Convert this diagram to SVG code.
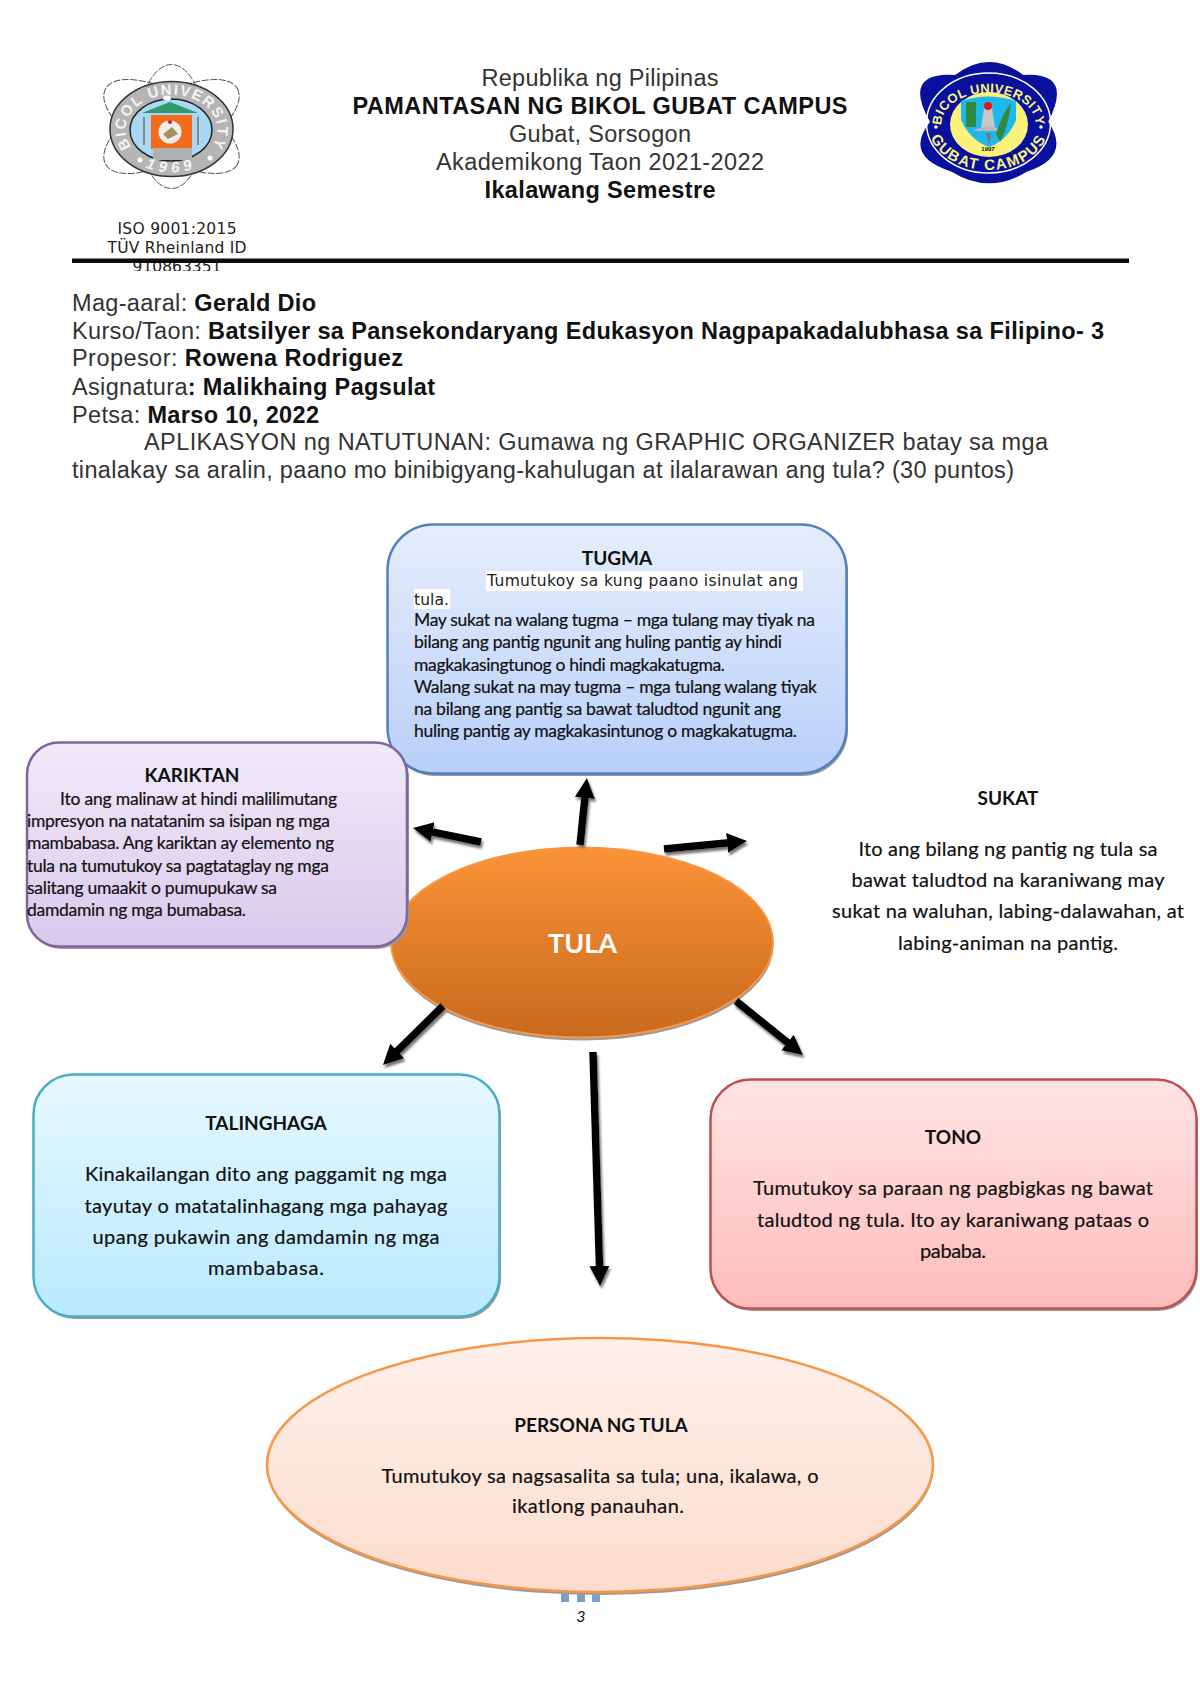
<svg xmlns="http://www.w3.org/2000/svg" width="1200" height="1698" viewBox="0 0 1200 1698">
<style>
text{fill:#111}
.h{font-family:"Liberation Sans",Arial,sans-serif;font-size:23.5px;text-anchor:middle;fill:#333}
.hb{font-weight:bold;fill:#111}
.m{font-family:"Liberation Sans",Arial,sans-serif;font-size:23.5px;fill:#333}
.m tspan{font-weight:bold;fill:#111}
.b{font-family:Lato,"Noto Sans",sans-serif;font-size:17.5px;stroke:#111;stroke-width:.2}
.c{font-family:Lato,"Noto Sans",sans-serif;font-size:20px;text-anchor:middle;stroke:#111;stroke-width:.2}
.t{font-family:Lato,"Noto Sans",sans-serif;font-size:19px;font-weight:bold;text-anchor:middle}
.iso{font-family:"DejaVu Sans",sans-serif;font-size:15.5px;text-anchor:middle;fill:#222}
.arrow{stroke:#000;stroke-width:7.500;fill:none;marker-end:url(#ah)}
.sh{fill:#9a9a9a}
.lg{font-family:"Liberation Sans",sans-serif;font-weight:bold}
</style>
<defs>
<marker id="ah" markerUnits="userSpaceOnUse" markerWidth="24" markerHeight="24" refX="2" refY="11" orient="auto"><path d="M0 1L20 11L0 21Z" fill="#000"/></marker>
<filter id="ds" x="-20%" y="-20%" width="140%" height="140%"><feDropShadow dx="1.500" dy="3" stdDeviation="1" flood-color="#777"/></filter>
<linearGradient id="gb" x1="0" y1="0" x2="0" y2="1"><stop offset="0" stop-color="#e6eefc"/><stop offset="1" stop-color="#b9cffa"/></linearGradient>
<linearGradient id="gp" x1="0" y1="0" x2="0" y2="1"><stop offset="0" stop-color="#f0eaf8"/><stop offset="1" stop-color="#d9c9ec"/></linearGradient>
<linearGradient id="gc" x1="0" y1="0" x2="0" y2="1"><stop offset="0" stop-color="#e6f8ff"/><stop offset="1" stop-color="#b9e9fe"/></linearGradient>
<linearGradient id="gr" x1="0" y1="0" x2="0" y2="1"><stop offset="0" stop-color="#ffe4e4"/><stop offset="1" stop-color="#febcbc"/></linearGradient>
<linearGradient id="go" x1="0" y1="0" x2="0" y2="1"><stop offset="0" stop-color="#fef0ea"/><stop offset="1" stop-color="#fddccd"/></linearGradient>
<linearGradient id="gt" x1="0" y1="0" x2="0" y2="1"><stop offset="0" stop-color="#fb9336"/><stop offset="1" stop-color="#c8691e"/></linearGradient>
<path id="arcTop" d="M134 150A46 35 0 1 1 209 150"/>
<path id="arcBot" d="M116 129A55 43 0 0 0 227 129"/>
<path id="arcT2" d="M942.500 130A47 31 0 1 1 1034.500 130"/>
<path id="arcB2" d="M928 124A60.500 46 0 0 0 1049 124"/>
</defs>

<g id="logo-left">
<g fill="none" stroke="#555" stroke-width="1" stroke-dasharray="7 1.500">
<ellipse cx="171.500" cy="126.500" rx="76" ry="32" transform="rotate(30 171.500 126.500)"/>
<ellipse cx="171.500" cy="126.500" rx="76" ry="32" transform="rotate(-30 171.500 126.500)"/>
<ellipse cx="171.500" cy="126.500" rx="32" ry="62"/>
</g>
<ellipse cx="171.500" cy="129" rx="61.500" ry="47.500" fill="#b5b5b5" stroke="#333" stroke-width="1.500"/>
<ellipse cx="171" cy="130" rx="41" ry="31" fill="#a8d8f4" stroke="#222" stroke-width="1.500"/>
<ellipse cx="167" cy="98" rx="4" ry="2.500" fill="#fff"/>
<path d="M142 113L170 102L198 113Z" fill="#2f9a6c"/>
<rect x="143" y="117" width="2" height="28" fill="#888"/>
<rect x="197" y="117" width="2" height="28" fill="#888"/>
<rect x="151" y="115" width="41" height="34" fill="#f26a1b"/>
<rect x="153" y="148" width="39" height="12" fill="#b0b0b0"/>
<circle cx="170" cy="132" r="11.500" fill="#eee"/>
<path d="M163 134L172 127L178 134L168 139Z" fill="#a8905c"/>
<circle cx="170" cy="122" r="2" fill="#c22"/>
<text class="lg" font-size="15" style="fill:#f4f4f4" letter-spacing="1.500" text-anchor="middle"><textPath href="#arcTop" startOffset="50%">BICOL UNIVERSITY</textPath></text>
<text class="lg" font-size="15" font-style="italic" style="fill:#f4f4f4" letter-spacing="5" text-anchor="middle"><textPath href="#arcBot" startOffset="50%">1969</textPath></text>
<circle cx="140" cy="160" r="2.500" fill="#fff"/>
<circle cx="210" cy="158" r="2.500" fill="#fff"/>
</g>

<g id="logo-right">
<path d="M955 75Q989 49 1023.300 75Q1074 71.700 1048.300 121.700Q1072 156.700 1026.700 171.700Q989 195 951.700 171.700Q903 156.700 930 121.700Q901.500 71.700 955 75Z" fill="#08109c"/>
<ellipse cx="988.500" cy="123" rx="62" ry="50" fill="none" stroke="#fff" stroke-width="1.500"/>
<ellipse cx="989" cy="124.500" rx="39" ry="32.500" fill="#fbf27c"/>
<path d="M961 101Q988 92 1016 101L1016 120Q1008 140 989 147Q970 140 961 120Z" fill="#1eb8ee"/>
<path d="M984 108h8l3 20h-14Z" fill="#c8c8c8"/>
<path d="M973 131Q988 122 1003 131Z" fill="#b8b8b8"/>
<path d="M986 133h5l-2 12Z" fill="#777"/>
<circle cx="988" cy="106" r="4" fill="#e01818"/>
<path d="M996 134Q1002 114 1011 103Q1008 128 1000 142Z" fill="#2e8a3c"/>
<rect x="966" y="102" width="10" height="25" fill="#2e8a3c"/>
<text class="lg" font-size="13" style="fill:#fbf27c" letter-spacing=".3" text-anchor="middle"><textPath href="#arcT2" startOffset="50%">BICOL UNIVERSITY</textPath></text>
<text class="lg" font-size="15" style="fill:#fbf27c" letter-spacing="1.500" text-anchor="middle"><textPath href="#arcB2" startOffset="50%">GUBAT CAMPUS</textPath></text>
<circle cx="936" cy="127" r="1.800" fill="#fff"/>
<circle cx="1041" cy="127" r="1.800" fill="#fff"/>
<text x="988" y="151" class="lg" font-size="6" text-anchor="middle">1997</text>
</g>

<g id="header">
<text class="h" x="600" y="86" textLength="237">Republika ng Pilipinas</text>
<text class="h hb" x="600" y="114" textLength="495">PAMANTASAN NG BIKOL GUBAT CAMPUS</text>
<text class="h" x="600" y="142" textLength="182">Gubat, Sorsogon</text>
<text class="h" x="600" y="170" textLength="328">Akademikong Taon 2021-2022</text>
<text class="h hb" x="600" y="198" textLength="231">Ikalawang Semestre</text>
<text class="iso" x="177" y="234" textLength="119">ISO 9001:2015</text>
<text class="iso" x="177" y="253" textLength="139">TÜV Rheinland ID</text>
<clipPath id="clipIso"><rect x="100" y="263" width="160" height="8"/></clipPath>
<text class="iso" x="177" y="272" clip-path="url(#clipIso)">910863351</text>
<rect x="72" y="258.500" width="1057" height="4.500" fill="#0c0c0c"/>
</g>

<g id="info">
<text class="m" x="72" y="311" textLength="244">Mag-aaral: <tspan>Gerald Dio</tspan></text>
<text class="m" x="72" y="339" textLength="1032">Kurso/Taon: <tspan>Batsilyer sa Pansekondaryang Edukasyon Nagpapakadalubhasa sa Filipino- 3</tspan></text>
<text class="m" x="72" y="366" textLength="331">Propesor: <tspan>Rowena Rodriguez</tspan></text>
<text class="m" x="72" y="395" textLength="363">Asignatura<tspan>: Malikhaing Pagsulat</tspan></text>
<text class="m" x="72" y="423" textLength="247">Petsa: <tspan>Marso 10, 2022</tspan></text>
<text class="m" x="144" y="450" textLength="904">APLIKASYON ng NATUTUNAN: Gumawa ng GRAPHIC ORGANIZER batay sa mga</text>
<text class="m" x="72" y="478" textLength="942">tinalakay sa aralin, paano mo binibigyang-kahulugan at ilalarawan ang tula? (30 puntos)</text>
</g>

<g id="node-tugma">
<rect class="sh" x="389" y="527" width="459" height="249" rx="46"/>
<rect x="387.500" y="524.500" width="459" height="249" rx="46" fill="url(#gb)" stroke="#4f81bd" stroke-width="2.500"/>
<rect x="486" y="571" width="317" height="20" fill="#fff"/>
<rect x="414" y="589" width="36" height="20" fill="#fff"/>
<text class="t" x="617" y="565">TUGMA</text>
<text class="iso" x="487" y="586" style="text-anchor:start" textLength="311">Tumutukoy sa kung paano isinulat ang</text>
<text class="iso" x="414" y="605" style="text-anchor:start" textLength="35">tula.</text>
<text class="b" x="414" y="626" textLength="401">May sukat na walang tugma – mga tulang may tiyak na</text>
<text class="b" x="414" y="648" textLength="368">bilang ang pantig ngunit ang huling pantig ay hindi</text>
<text class="b" x="414" y="671" textLength="311">magkakasingtunog o hindi magkakatugma.</text>
<text class="b" x="414" y="693" textLength="403">Walang sukat na may tugma – mga tulang walang tiyak</text>
<text class="b" x="414" y="715" textLength="367">na bilang ang pantig sa bawat taludtod ngunit ang</text>
<text class="b" x="414" y="737" textLength="383">huling pantig ay magkakasintunog o magkakatugma.</text>
</g>

<g id="node-tula">
<ellipse class="sh" cx="582.500" cy="945.500" rx="191" ry="95"/>
<ellipse cx="582" cy="942.500" rx="191" ry="95" fill="url(#gt)" stroke="#f79646" stroke-width="2"/>
<text x="582.500" y="953" font-family="Lato,sans-serif" font-size="27" font-weight="bold" text-anchor="middle" style="fill:#fff" textLength="69">TULA</text>
</g>

<g id="node-kariktan">
<rect class="sh" x="29" y="745" width="380" height="204" rx="32"/>
<rect x="27" y="742.500" width="380" height="204" rx="32" fill="url(#gp)" stroke="#8064a2" stroke-width="2.500"/>
<text class="t" x="192" y="782">KARIKTAN</text>
<text class="b" x="60" y="805" textLength="277">Ito ang malinaw at hindi malilimutang</text>
<text class="b" x="27" y="827" textLength="303">impresyon na natatanim sa isipan ng mga</text>
<text class="b" x="27" y="849" textLength="307">mambabasa. Ang kariktan ay elemento ng</text>
<text class="b" x="27" y="872" textLength="302">tula na tumutukoy sa pagtataglay ng mga</text>
<text class="b" x="27" y="894" textLength="250">salitang umaakit o pumupukaw sa</text>
<text class="b" x="27" y="916" textLength="219">damdamin ng mga bumabasa.</text>
</g>

<g id="node-sukat">
<text class="t" x="1008" y="805">SUKAT</text>
<text class="c" x="1008" y="856" textLength="299">Ito ang bilang ng pantig ng tula sa</text>
<text class="c" x="1008" y="887" textLength="313">bawat taludtod na karaniwang may</text>
<text class="c" x="1008" y="918" textLength="352">sukat na waluhan, labing-dalawahan, at</text>
<text class="c" x="1008" y="950" textLength="220">labing-animan na pantig.</text>
</g>

<g id="node-talinghaga">
<rect class="sh" x="35" y="1077" width="466" height="242" rx="40"/>
<rect x="33.500" y="1074.500" width="466" height="242" rx="40" fill="url(#gc)" stroke="#4bacc6" stroke-width="2.500"/>
<text class="t" x="266" y="1130">TALINGHAGA</text>
<text class="c" x="266" y="1181" textLength="362">Kinakailangan dito ang paggamit ng mga</text>
<text class="c" x="266" y="1213" textLength="363">tayutay o matatalinhagang mga pahayag</text>
<text class="c" x="266" y="1244" textLength="347">upang pukawin ang damdamin ng mga</text>
<text class="c" x="266" y="1275" textLength="116">mambabasa.</text>
</g>

<g id="node-tono">
<rect class="sh" x="712" y="1082" width="486" height="229" rx="40"/>
<rect x="710.500" y="1079.500" width="486" height="229" rx="40" fill="url(#gr)" stroke="#c0504d" stroke-width="2.500"/>
<text class="t" x="953" y="1144">TONO</text>
<text class="c" x="953" y="1195" textLength="400">Tumutukoy sa paraan ng pagbigkas ng bawat</text>
<text class="c" x="953" y="1227" textLength="392">taludtod ng tula. Ito ay karaniwang pataas o</text>
<text class="c" x="953" y="1258" textLength="66">pababa.</text>
</g>

<g id="page-marks">
<rect x="561" y="1594" width="8" height="8" fill="#7b9fcb"/>
<rect x="577" y="1594" width="8" height="8" fill="#7b9fcb"/>
<rect x="592" y="1594" width="8" height="8" fill="#7b9fcb"/>
<text x="581" y="1622" font-family="Lato,sans-serif" font-size="16" font-style="italic" text-anchor="middle">3</text>
</g>

<g id="node-persona">
<ellipse class="sh" cx="600.500" cy="1468" rx="333" ry="127"/>
<ellipse cx="600" cy="1465" rx="333" ry="127" fill="url(#go)" stroke="#f79646" stroke-width="2.500"/>
<text class="t" x="601" y="1432">PERSONA NG TULA</text>
<text class="c" x="600" y="1483" textLength="437">Tumutukoy sa nagsasalita sa tula; una, ikalawa, o</text>
<text class="c" x="598" y="1513" textLength="172">ikatlong panauhan.</text>
</g>

<g id="connectors" filter="url(#ds)">
<path class="arrow" d="M580 845L585.100 795.900"/>
<path class="arrow" d="M481 842L430.600 831.600"/>
<path class="arrow" d="M664 849L729.100 842.700"/>
<path class="arrow" d="M443 1006L395.800 1052.400"/>
<path class="arrow" d="M736 1001L789 1043.700"/>
<path class="arrow" d="M593 1052L599.500 1268"/>
</g>
</svg>
